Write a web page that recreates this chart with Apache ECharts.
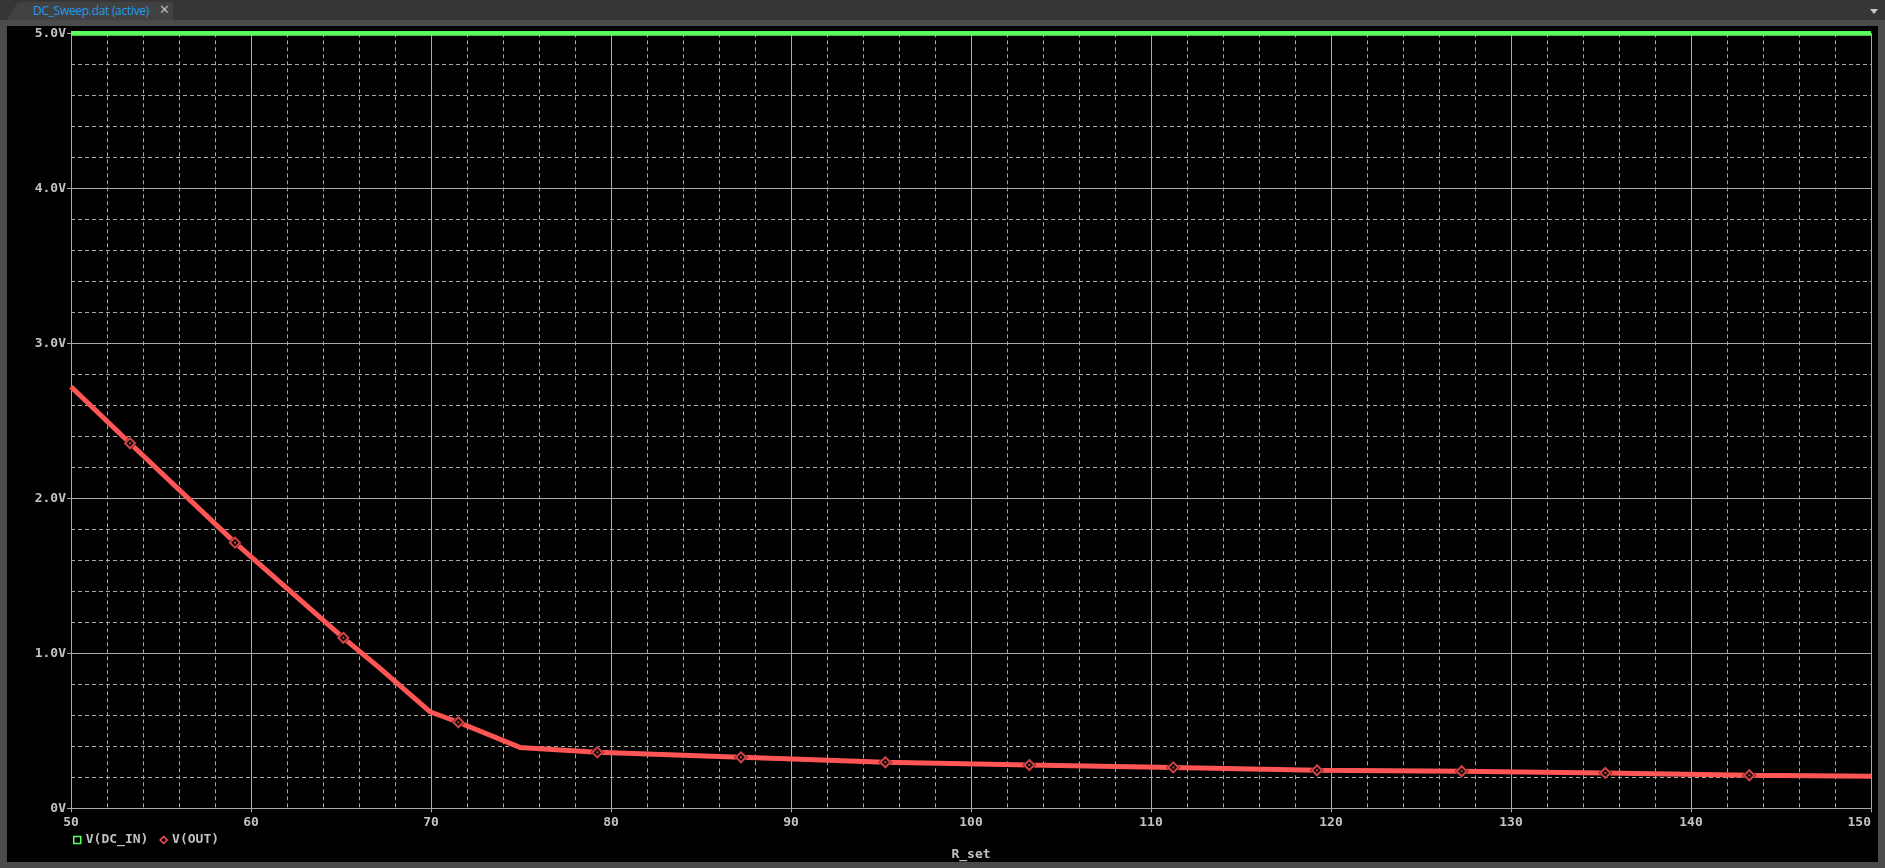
<!DOCTYPE html>
<html>
<head>
<meta charset="utf-8">
<script src="https://cdn.jsdelivr.net/npm/echarts@6/dist/echarts.min.js"></script>
<style>
html,body{margin:0;padding:0;width:1885px;height:868px;overflow:hidden;background:#3a3a3a;}
#bar{position:absolute;left:0;top:0;width:1885px;height:20px;background:#363636;}
#tab{position:absolute;left:6px;top:2px;width:167px;height:18px;background:#424242;clip-path:polygon(12px 0,100% 0,100% 100%,0 100%);}
#tabtxt{position:absolute;left:33px;top:3px;font-family:"Open Sans","Noto Sans",sans-serif;font-size:12px;letter-spacing:-0.3px;color:#1f9cf0;line-height:16px;}
#tabx{position:absolute;left:159px;top:2px;font-family:"DejaVu Sans",sans-serif;font-size:13px;color:#b8b8b8;line-height:16px;}
#arrow{position:absolute;left:1870px;top:9px;width:0;height:0;border-left:4px solid transparent;border-right:4px solid transparent;border-top:5px solid #c8c8c8;}
#frame{position:absolute;left:0;top:20px;width:1885px;height:848px;background:#4b4b4b;}
#chart{position:absolute;left:7px;top:26px;width:1871px;height:836px;background:#000;}
</style>
</head>
<body>
<div id="bar"></div>
<div id="tab"></div>
<div id="tabtxt">DC_Sweep.dat (active)</div>
<div id="tabx">✕</div>
<div id="arrow"></div>
<div id="frame"></div>
<div id="chart"></div>
<script>
// ---- data ----
const rSet = [50, 53.28, 59.11, 65.13, 67.17, 69.94, 71.52, 74.94, 79.24, 87.22, 90.5, 95.24, 103.24, 111.24, 119.22, 127.26, 135.24, 143.24, 150];
const vOut = [2.72, 2.355, 1.714, 1.10, 0.903, 0.623, 0.555, 0.393, 0.361, 0.329, 0.316, 0.297, 0.279, 0.264, 0.245, 0.239, 0.228, 0.213, 0.206];
const rIn = [50, 150];
const vIn = [5.0, 5.0];
const markerR = [53.28, 59.11, 65.13, 71.52, 79.24, 87.22, 95.24, 103.24, 111.24, 119.22, 127.26, 135.24, 143.24];
const markerV = [2.355, 1.714, 1.10, 0.555, 0.361, 0.329, 0.297, 0.279, 0.264, 0.245, 0.239, 0.228, 0.213];
const yTickValues = [0, 1, 2, 3, 4, 5];
const yTickLabels = ['0V', '1.0V', '2.0V', '3.0V', '4.0V', '5.0V'];
const xTickLabels = ['50', '60', '70', '80', '90', '100', '110', '120', '130', '140', '150'];

const GRAY = '#a8a8a8';
const TXT = '#c2c2c2';
const MONO = '"DejaVu Sans Mono", "Liberation Mono", monospace';
const RED = '#ff5555';
const GREEN = '#5cff5c';

const outData = rSet.map((r, i) => [r, vOut[i]]);
const inData = rIn.map((r, i) => [r, vIn[i]]);
const mkData = markerR.map((r, i) => [r, markerV[i]]);

const txtStyle = {color: TXT, fontFamily: MONO, fontSize: 13, fontWeight: 'bold'};

const chart = echarts.init(document.getElementById('chart'), null, {renderer: 'canvas'});
chart.setOption({
  backgroundColor: '#000',
  animation: false,
  grid: {left: 64, right: 7, top: 7.3, bottom: 53.7, containLabel: false, outerBoundsMode: 'none'},
  legend: {
    left: 61, top: 802.5, orient: 'horizontal', itemWidth: 7, itemHeight: 7, itemGap: 11,
    textStyle: Object.assign({}, txtStyle),
    data: [
      {name: 'V(DC_IN)', icon: 'rect', itemStyle: {color: '#000', borderColor: GREEN, borderWidth: 1.5}},
      {name: 'V(OUT)', icon: 'diamond', itemStyle: {color: '#000', borderColor: RED, borderWidth: 1.5}}
    ]
  },
  xAxis: [
    {
      type: 'value', min: 50, max: 150, interval: 10,
      name: 'R_set', nameLocation: 'middle', nameGap: 40,
      nameTextStyle: Object.assign({}, txtStyle),
      axisLine: {show: true, onZero: false, lineStyle: {color: GRAY, width: 1}},
      axisTick: {show: true, length: 4, lineStyle: {color: GRAY}},
      axisLabel: Object.assign({margin: 8, alignMaxLabel: 'right',
        formatter: v => xTickLabels[Math.round((v - 50) / 10)]}, txtStyle),
      splitLine: {show: true, lineStyle: {color: GRAY, width: 1}},
      z: 2
    },
    {
      type: 'value', min: 50, max: 150, interval: 2, position: 'bottom',
      axisLine: {show: false}, axisTick: {show: false}, axisLabel: {show: false},
      splitLine: {show: true, lineStyle: {color: GRAY, width: 1, type: [4, 3]}},
      z: 1
    }
  ],
  yAxis: [
    {
      type: 'value', min: 0, max: 5, interval: 1,
      axisLine: {show: true, lineStyle: {color: GRAY, width: 1}},
      axisTick: {show: true, length: 4, lineStyle: {color: GRAY}},
      axisLabel: Object.assign({margin: 5, formatter: v => yTickLabels[yTickValues.indexOf(Math.round(v))]}, txtStyle),
      splitLine: {show: true, lineStyle: {color: GRAY, width: 1}},
      z: 2
    },
    {
      type: 'value', min: 0, max: 5, interval: 0.2, position: 'left',
      axisLine: {show: false}, axisTick: {show: false}, axisLabel: {show: false},
      splitLine: {show: true, lineStyle: {color: GRAY, width: 1, type: [4, 3]}},
      z: 1
    }
  ],
  series: [
    {
      name: 'V(DC_IN)', type: 'line', data: inData, showSymbol: false, clip: false,
      lineStyle: {color: GREEN, width: 4.7}, itemStyle: {color: GREEN}, z: 3
    },
    {
      name: 'V(OUT)', type: 'line', data: outData, showSymbol: false, clip: false,
      lineStyle: {color: RED, width: 5}, itemStyle: {color: RED}, z: 4
    },
    {
      name: 'markerGaps', type: 'scatter', data: mkData, symbol: 'diamond', symbolSize: 14,
      itemStyle: {color: '#000'}, z: 5, silent: true
    },
    {
      name: 'markers', type: 'scatter', data: mkData, symbol: 'diamond', symbolSize: 10,
      itemStyle: {color: '#000', borderColor: RED, borderWidth: 2}, z: 6
    },
    {
      name: 'markerDots', type: 'scatter', data: mkData, symbol: 'rect', symbolSize: 2,
      itemStyle: {color: RED}, z: 7
    }
  ]
});
</script>
</body>
</html>
